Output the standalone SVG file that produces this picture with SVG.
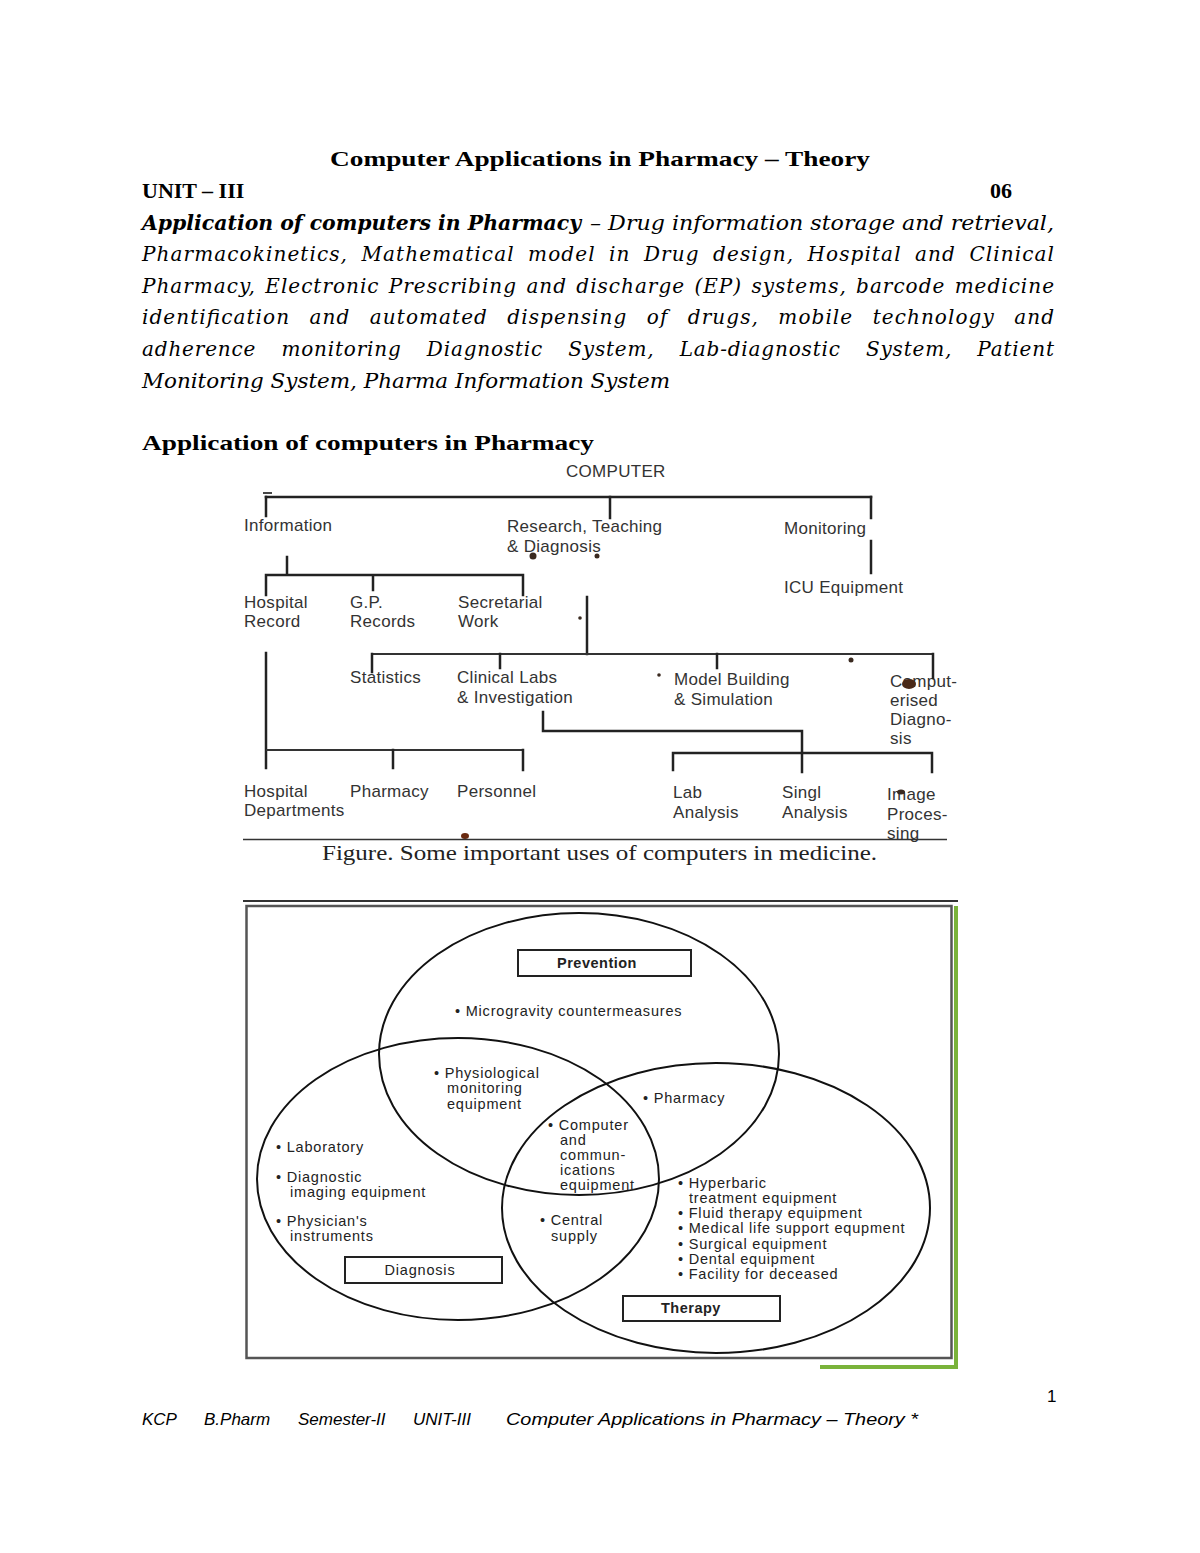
<svg xmlns="http://www.w3.org/2000/svg" width="1200" height="1553" viewBox="0 0 1200 1553">
<style>
.ttl{font-family:"Liberation Serif",serif;font-weight:bold;font-size:22px;fill:#000}
.bi{font-family:"DejaVu Serif",serif;font-weight:bold;font-style:italic;font-size:20px;fill:#000}
.it{font-family:"DejaVu Serif",serif;font-style:italic;font-size:20px;fill:#000}
.ft{font-family:"Liberation Sans",sans-serif;font-style:italic;font-size:17px;fill:#000}
.pg{font-family:"Liberation Sans",sans-serif;font-size:17px;fill:#000}
.tr{font-family:"Liberation Sans",Arial,sans-serif;font-size:17px;fill:#333;letter-spacing:0.3px}
.cap{font-family:"Liberation Serif",serif;font-size:21px;fill:#222}
.ln{stroke:#222;stroke-width:2.5;fill:none;stroke-linecap:square}
.lt{stroke:#333;stroke-width:1.8;fill:none}
.vn{font-family:"Liberation Sans",Arial,sans-serif;font-size:14.5px;fill:#222;letter-spacing:0.8px}
.vb{font-family:"Liberation Sans",Arial,sans-serif;font-size:14.5px;font-weight:bold;fill:#222;letter-spacing:0.5px}
.el{stroke:#111;stroke-width:2;fill:none}
.bx{stroke:#222;stroke-width:2;fill:#fff}
.blot{fill:#3a2a20}
</style>
<rect width="1200" height="1553" fill="#fff"/>

<g id="header">
<text class="ttl" x="330" y="166" textLength="540" lengthAdjust="spacingAndGlyphs">Computer Applications in Pharmacy – Theory</text>
<text class="ttl" x="142" y="198">UNIT – III</text>
<text class="ttl" x="990" y="198">06</text>
<text class="bi" x="142" y="230" textLength="439" lengthAdjust="spacingAndGlyphs">Application of computers in Pharmacy</text>
<text class="it" x="590" y="230" textLength="464" lengthAdjust="spacingAndGlyphs">– Drug information storage and retrieval,</text>
<text class="it" x="142" y="261" word-spacing="6" textLength="912" lengthAdjust="spacing">Pharmacokinetics, Mathematical model in Drug design, Hospital and Clinical</text>
<text class="it" x="142" y="293" word-spacing="2" textLength="912" lengthAdjust="spacing">Pharmacy, Electronic Prescribing and discharge (EP) systems, barcode medicine</text>
<text class="it" x="142" y="324" word-spacing="12" textLength="912" lengthAdjust="spacing">identification and automated dispensing of drugs, mobile technology and</text>
<text class="it" x="142" y="356" word-spacing="18" textLength="912" lengthAdjust="spacing">adherence monitoring Diagnostic System, Lab-diagnostic System, Patient</text>
<text class="it" x="142" y="388" textLength="528" lengthAdjust="spacingAndGlyphs">Monitoring System, Pharma Information System</text>
<text class="ttl" x="142" y="450" textLength="452" lengthAdjust="spacingAndGlyphs">Application of computers in Pharmacy</text>
</g>

<g id="tree-nodes">
<g id="n-computer"><text class="tr" x="566" y="477">COMPUTER</text></g>
<g id="n-information"><text class="tr" x="244" y="531">Information</text></g>
<g id="n-research"><text class="tr" x="507" y="532">Research, Teaching</text><text class="tr" x="507" y="552">&amp; Diagnosis</text></g>
<g id="n-monitoring"><text class="tr" x="784" y="534">Monitoring</text></g>
<g id="n-icu"><text class="tr" x="784" y="593">ICU Equipment</text></g>
<g id="n-hosprec"><text class="tr" x="244" y="608">Hospital</text><text class="tr" x="244" y="627">Record</text></g>
<g id="n-gp"><text class="tr" x="350" y="608">G.P.</text><text class="tr" x="350" y="627">Records</text></g>
<g id="n-secretarial"><text class="tr" x="458" y="608">Secretarial</text><text class="tr" x="458" y="627">Work</text></g>
<g id="n-statistics"><text class="tr" x="350" y="683">Statistics</text></g>
<g id="n-clinical"><text class="tr" x="457" y="683">Clinical Labs</text><text class="tr" x="457" y="703">&amp; Investigation</text></g>
<g id="n-model"><text class="tr" x="674" y="685">Model Building</text><text class="tr" x="674" y="705">&amp; Simulation</text></g>
<g id="n-compdiag"><text class="tr" x="890" y="687">Comput-</text><text class="tr" x="890" y="706">erised</text><text class="tr" x="890" y="725">Diagno-</text><text class="tr" x="890" y="744">sis</text></g>
<g id="n-hospdept"><text class="tr" x="244" y="797">Hospital</text><text class="tr" x="244" y="816">Departments</text></g>
<g id="n-pharmacy"><text class="tr" x="350" y="797">Pharmacy</text></g>
<g id="n-personnel"><text class="tr" x="457" y="797">Personnel</text></g>
<g id="n-lab"><text class="tr" x="673" y="798">Lab</text><text class="tr" x="673" y="818">Analysis</text></g>
<g id="n-singl"><text class="tr" x="782" y="798">Singl</text><text class="tr" x="782" y="818">Analysis</text></g>
<g id="n-image"><text class="tr" x="887" y="800">Image</text><text class="tr" x="887" y="820">Proces-</text><text class="tr" x="887" y="839">sing</text></g>
</g>

<g id="tree-connectors">
<path class="lt" d="M263 493 H272"/>
<path class="ln" d="M266 497 H871"/>
<path class="ln" d="M266 497 V516 M610 497 V518 M871 497 V518"/>
<path class="ln" d="M871 541 V573"/>
<path class="ln" d="M287 557 V575 M266 575 H523 M266 575 V595 M373 575 V590 M523 575 V595"/>
<path class="ln" d="M587 597 V654"/>
<path class="lt" d="M372 654 H933"/>
<path class="ln" d="M372 654 V672 M500 654 V668 M717 654 V668 M933 654 V678"/>
<path class="ln" d="M266 653 V768"/>
<path class="lt" d="M266 750 H523"/>
<path class="ln" d="M393 750 V768 M523 750 V770"/>
<path class="ln" d="M543 712 V731 H802 V772"/>
<path class="ln" d="M673 753 H932 M673 753 V770 M932 753 V772"/>
</g>

<g id="blots">
<circle class="blot" cx="533" cy="556" r="3.5"/>
<circle class="blot" cx="597" cy="556" r="2.5"/>
<circle class="blot" cx="580" cy="618" r="1.8"/>
<circle class="blot" cx="659" cy="675" r="1.8"/>
<circle class="blot" cx="851" cy="660" r="2.5"/>
<ellipse cx="909" cy="684" rx="7" ry="5" fill="#4a2a18"/>
<ellipse class="blot" cx="901" cy="792" rx="4" ry="2.5"/>
<ellipse cx="465" cy="836" rx="4" ry="3" fill="#6a2a10"/>
</g>

<g id="caption">
<path stroke="#333" stroke-width="1.5" d="M243 839.5 H947"/>
<text class="cap" x="322" y="860" textLength="555" lengthAdjust="spacingAndGlyphs">Figure. Some important uses of computers in medicine.</text>
</g>

<g id="venn-frame">
<path stroke="#333" stroke-width="2" d="M243 901 H958"/>
<rect x="246.5" y="906" width="705" height="452" fill="none" stroke="#555" stroke-width="2.5"/>
<path stroke="#7ab33a" stroke-width="4" fill="none" d="M956 906 V1367 H820"/>
</g>

<g id="venn-circles">
<ellipse id="c-prevention" class="el" cx="579" cy="1054" rx="200" ry="141"/>
<ellipse id="c-diagnosis" class="el" cx="458" cy="1179" rx="201" ry="141"/>
<ellipse id="c-therapy" class="el" cx="716" cy="1208" rx="214" ry="145"/>
</g>

<g id="venn-labels">
<g id="b-prevention"><rect class="bx" x="518" y="950" width="173" height="26"/><text class="vb" x="597" y="968" text-anchor="middle">Prevention</text></g>
<g id="b-diagnosis"><rect class="bx" x="345" y="1257" width="157" height="26"/><text class="vn" x="420" y="1275" text-anchor="middle" letter-spacing="0.5">Diagnosis</text></g>
<g id="b-therapy"><rect class="bx" x="623" y="1296" width="157" height="25"/><text class="vb" x="661" y="1313">Therapy</text></g>
<text class="vn" x="455" y="1016">• Microgravity countermeasures</text>
<text class="vn" x="434" y="1078">• Physiological</text>
<text class="vn" x="447" y="1093">monitoring</text>
<text class="vn" x="447" y="1109">equipment</text>
<text class="vn" x="643" y="1103">• Pharmacy</text>
<text class="vn" x="548" y="1130">• Computer</text>
<text class="vn" x="560" y="1145">and</text>
<text class="vn" x="560" y="1160">commun-</text>
<text class="vn" x="560" y="1175">ications</text>
<text class="vn" x="560" y="1190">equipment</text>
<text class="vn" x="276" y="1152">• Laboratory</text>
<text class="vn" x="276" y="1182">• Diagnostic</text>
<text class="vn" x="290" y="1197">imaging equipment</text>
<text class="vn" x="276" y="1226">• Physician's</text>
<text class="vn" x="290" y="1241">instruments</text>
<text class="vn" x="540" y="1225">• Central</text>
<text class="vn" x="551" y="1241">supply</text>
<text class="vn" x="678" y="1188">• Hyperbaric</text>
<text class="vn" x="689" y="1203">treatment equipment</text>
<text class="vn" x="678" y="1218">• Fluid therapy equipment</text>
<text class="vn" x="678" y="1233">• Medical life support equpment</text>
<text class="vn" x="678" y="1249">• Surgical equipment</text>
<text class="vn" x="678" y="1264">• Dental equipment</text>
<text class="vn" x="678" y="1279">• Facility for deceased</text>
</g>

<g id="footer">
<text class="pg" x="1047" y="1402">1</text>
<text class="ft" x="142" y="1425">KCP</text>
<text class="ft" x="204" y="1425">B.Pharm</text>
<text class="ft" x="298" y="1425">Semester-II</text>
<text class="ft" x="413" y="1425">UNIT-III</text>
<text class="ft" x="506" y="1425" textLength="412" lengthAdjust="spacingAndGlyphs">Computer Applications in Pharmacy – Theory *</text>
</g>
</svg>
